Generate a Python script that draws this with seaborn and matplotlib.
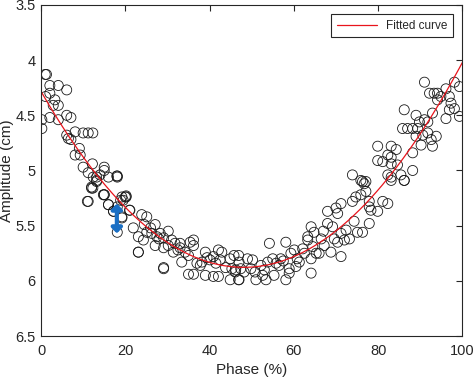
import numpy as np
import pandas as pd
import matplotlib
matplotlib.use("Agg")
import matplotlib.pyplot as plt
import seaborn as sns

# ---- data ----
phase = [
    0.2, 0.2, 1.0, 1.3, 2.1, 4.1, 6.1, 2.1, 1.1, 3.3, 4.1, 2.9, 2.1, 4.1, 6.1, 7.1,
    6.1, 6.5, 7.1, 8.1, 10.0, 11.2, 12.3, 9.1, 8.1, 9.3, 10.0, 12.2, 11.2, 13.2, 14.0,
    15.0, 15.0, 16.0, 18.1, 18.1, 12.3, 15.0, 20.0, 19.5,
    11.0, 12.0, 13.2, 15.0, 16.0, 17.2, 18.1, 18.9, 20.2, 21.0, 19.2, 18.1, 21.9,
    23.9, 25.1, 24.5, 23.1, 24.3, 23.1, 25.1, 27.1, 26.3, 27.5, 28.3, 29.1, 30.2,
    27.1, 29.1, 30.2, 29.1, 31.0, 31.4, 33.0, 33.0, 34.2, 35.4, 36.2, 36.2, 33.4,
    35.0, 36.2, 35.0, 37.0, 38.2, 39.0, 39.4, 39.0, 40.1, 40.9, 42.1, 42.5, 40.9,
    42.1, 42.9, 44.9, 45.3, 46.1, 44.9, 46.9, 46.9,
    45.8, 47.0, 46.2, 47.4, 47.0, 49.0, 49.8, 50.2, 51.0, 52.2, 52.6, 53.4, 53.8,
    54.2, 55.0, 55.3, 56.5, 56.9, 58.1, 58.1, 58.9, 58.9, 59.3, 60.1, 60.5, 61.3,
    62.1, 62.5, 63.3, 63.3, 64.1, 64.8, 64.5, 64.1, 64.1, 65.3, 66.0, 67.2, 68.0,
    68.0, 68.8, 69.2, 69.6, 70.0, 70.4, 70.4, 71.2, 71.2, 71.2, 72.0, 72.4, 73.2,
    73.9, 74.3, 75.1, 74.7, 75.9, 76.3, 77.1, 77.9, 77.9, 78.3, 77.9, 79.9, 81.1,
    82.3, 76.7, 76.3, 83.1, 86.2,
    91.0, 92.2, 93.3, 94.1, 94.1, 94.9, 96.1, 98.1, 99.3, 96.9, 97.3, 98.1, 96.9,
    96.1, 99.3, 86.2, 89.0, 89.8, 91.0, 92.9, 91.8, 85.8, 87.0, 88.2, 89.4, 89.0,
    90.6, 91.8, 90.2, 92.6, 93.8, 92.9, 79.9, 83.1, 82.3, 84.3, 79.9, 81.1, 83.1,
    83.1, 84.6, 88.2, 88.2, 83.1, 85.4, 86.2, 73.9, 75.9, 77.1, 82.3,
    11.2, 14.8, 16.0, 17.2, 19.2, 20.2, 21.1, 19.2, 23.1, 29.1, 12.4, 13.2, 12.0,
    18.0, 26.0, 28.0, 31.8, 32.5, 37.8, 41.5, 43.8, 48.2, 50.8, 53.0, 55.8, 57.5,
    60.8, 66.5, 67.0,
]
amplitude = [
    4.54, 4.62, 4.13, 4.13, 4.23, 4.23, 4.27, 4.30, 4.33, 4.36, 4.41, 4.41, 4.52, 4.54, 4.50, 4.52,
    4.68, 4.71, 4.72, 4.65, 4.66, 4.66, 4.66, 4.80, 4.86, 4.86, 4.97, 4.94, 5.02, 5.06, 5.04,
    4.97, 5.00, 5.06, 5.06, 5.05, 5.16, 5.22, 5.24, 5.27,
    5.28, 5.16, 5.10, 5.22, 5.31, 5.37, 5.33, 5.27, 5.24, 5.36, 5.42, 5.56, 5.52,
    5.40, 5.42, 5.49, 5.60, 5.63, 5.74, 5.56, 5.49, 5.57, 5.60, 5.57, 5.61, 5.55,
    5.68, 5.70, 5.68, 5.88, 5.63, 5.74, 5.66, 5.70, 5.74, 5.65, 5.63, 5.68, 5.83,
    5.94, 5.94, 5.77, 5.84, 5.83, 5.74, 5.79, 5.95, 5.81, 5.78, 5.72, 5.81, 5.96,
    5.96, 5.74, 5.80, 5.89, 5.92, 5.99, 5.99, 5.77,
    5.77, 5.83, 5.90, 5.89, 5.99, 5.80, 5.89, 5.81, 5.99, 5.86, 5.95, 5.99, 5.83,
    5.66, 5.80, 5.95, 5.86, 5.80, 5.65, 5.99, 5.89, 5.93, 5.75, 5.72, 5.87, 5.83,
    5.71, 5.75, 5.63, 5.60, 5.51, 5.56, 5.69, 5.80, 5.93, 5.75, 5.75, 5.68, 5.48,
    5.37, 5.74, 5.51, 5.62, 5.34, 5.39, 5.65, 5.30, 5.57, 5.78, 5.63, 5.54, 5.62,
    5.28, 5.46, 5.56, 5.24, 5.22, 5.56, 5.19, 5.28, 5.33, 5.36, 5.48, 5.37, 5.28,
    5.30, 5.12, 5.10, 5.09, 5.09,
    4.20, 4.30, 4.30, 4.30, 4.36, 4.33, 4.26, 4.20, 4.24, 4.33, 4.39, 4.44, 4.45,
    4.53, 4.51, 4.45, 4.50, 4.56, 4.54, 4.48, 4.56, 4.62, 4.62, 4.62, 4.62, 4.69,
    4.68, 4.66, 4.77, 4.72, 4.69, 4.78, 4.78, 4.78, 4.86, 4.81, 4.91, 4.92, 4.88,
    4.94, 4.95, 4.84, 5.00, 5.06, 5.04, 5.09, 5.04, 5.09, 5.10, 5.04,
    5.28, 5.22, 5.31, 5.37, 5.24, 5.23, 5.36, 5.43, 5.74, 5.89, 5.06, 5.09, 5.15,
    5.05, 5.52, 5.62, 5.66, 5.72, 5.86, 5.84, 5.88, 5.92, 5.92, 5.90, 5.84, 5.82,
    5.80, 5.62, 5.55,
]
arrow_x = 18.0
arrow_y = [5.30, 5.57]

x_ticks = [0, 20, 40, 60, 80, 100]
y_ticks = [3.5, 4, 4.5, 5, 5.5, 6, 6.5]
y_tick_labels = ["3.5", "4", "4.5", "5", "5.5", "6", "6.5"]

df = pd.DataFrame({"Phase": phase, "Amplitude": amplitude})

# quadratic least-squares fit of the scatter
coef = np.polyfit(df["Phase"], df["Amplitude"], 2)
xf = np.linspace(0, 100, 300)
fit_df = pd.DataFrame({"Phase": xf, "Amplitude": np.polyval(coef, xf)})

# ---- style ----
sns.set_style("white")
plt.rcParams["font.family"] = ["Liberation Sans", "DejaVu Sans"]

fig = plt.figure(figsize=(4.74, 3.78), dpi=100)
ax = fig.add_axes([0.0865, 0.111, 0.889, 0.876])

sns.scatterplot(data=df, x="Phase", y="Amplitude", ax=ax, marker="o",
                s=52, facecolor="none", edgecolor="#1a1a1a", linewidth=0.6,
                legend=False)
sns.lineplot(data=fit_df, x="Phase", y="Amplitude", ax=ax, color="#e8141c",
             linewidth=0.9, label="Fitted curve")

ax.annotate("", xy=(arrow_x, arrow_y[0]), xytext=(arrow_x, arrow_y[1]),
            arrowprops=dict(arrowstyle="<|-|>,head_length=0.3,head_width=0.3",
                            color="#1a6fc4", lw=3, shrinkA=0, shrinkB=0))

ax.set_xlim(0, 100)
ax.set_ylim(6.5, 3.5)
ax.set_xticks(x_ticks)
ax.set_yticks(y_ticks)
ax.set_yticklabels(y_tick_labels)
ax.set_xlabel("Phase (%)", fontsize=11, color="#262626", labelpad=3)
ax.set_ylabel("Amplitude (cm)", fontsize=11, color="#262626")
ax.yaxis.set_label_coords(-0.063, 0.5)
ax.tick_params(direction="in", length=4, width=0.8, colors="#262626",
               labelsize=10.5, top=True, right=True, labeltop=False,
               labelright=False)
ax.tick_params(axis="x", pad=6)
ax.tick_params(axis="y", pad=4)
for sp in ax.spines.values():
    sp.set_color("#262626")
    sp.set_linewidth(0.8)

leg = ax.legend(loc="upper right", fontsize=8.5, frameon=True, fancybox=False,
                edgecolor="#262626", framealpha=1, handlelength=3.4,
                borderpad=0.45, borderaxespad=0.8)
leg.get_frame().set_linewidth(0.8)

fig.savefig("out.png", dpi=100)
